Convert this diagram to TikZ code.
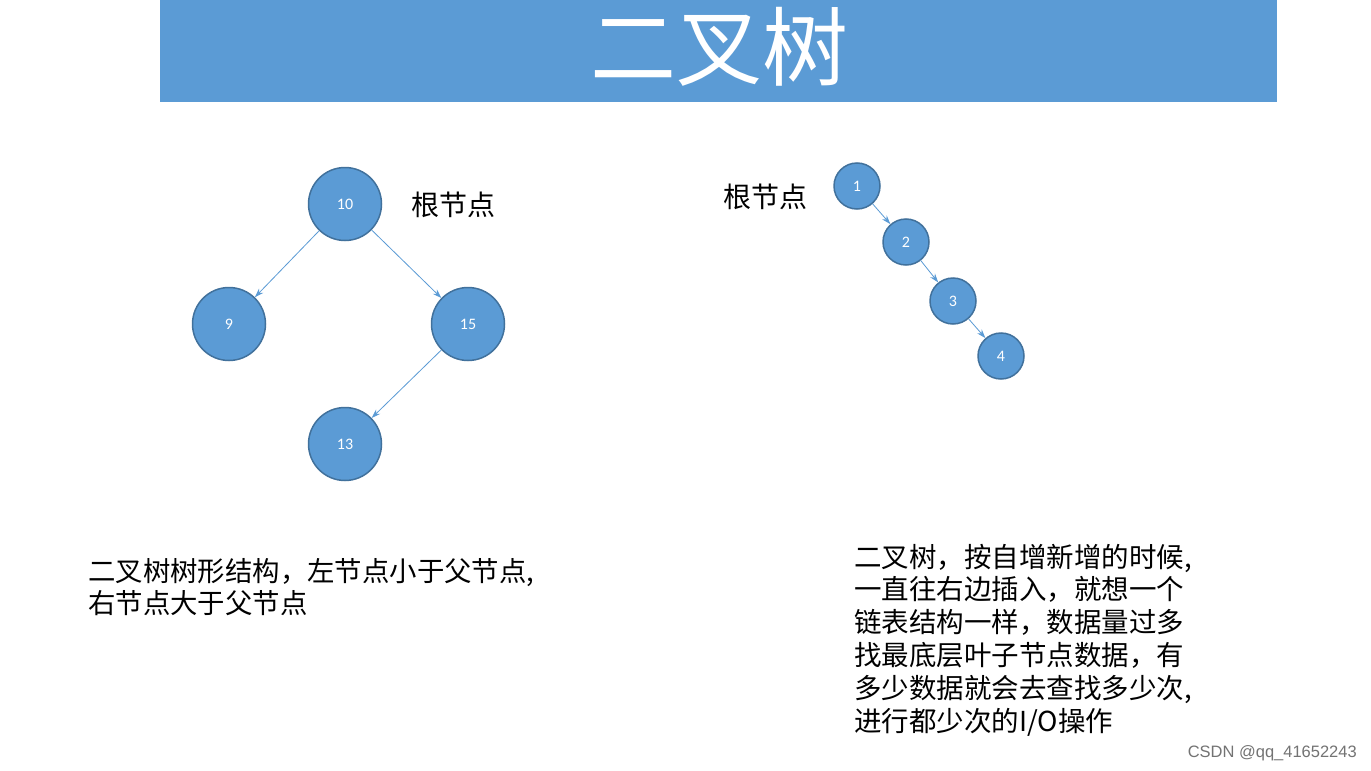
\documentclass[tikz,border=0pt]{standalone}
\usepackage{fontspec}
\setmainfont{Noto Sans CJK SC}
\newfontfamily\numfont{Carlito}
\newfontfamily\latinsans{Liberation Sans}
\usetikzlibrary{arrows.meta}
\definecolor{band}{HTML}{5B9BD5}
\definecolor{nodeedge}{HTML}{41719C}
\begin{document}
\begin{tikzpicture}[x=1pt,y=-1pt,
  treenode/.style={circle,fill=band,draw=nodeedge,line width=1.5pt,inner sep=0pt,text=white,font=\numfont\fontsize{16}{19}\selectfont},
  bignode/.style={treenode,minimum size=73pt},
  smallnode/.style={treenode,minimum size=46pt},
  link/.style={draw=band,line width=0.8pt,-{Stealth[length=9pt,width=6pt]}},
  label/.style={inner sep=0pt,font=\fontsize{28}{32}\selectfont},
  body/.style={inner sep=0pt,align=left,anchor=west}]
\useasboundingbox (0,0) rectangle (1371,771);
\fill[white] (0,0) rectangle (1371,771);
\fill[band] (160,0) rectangle (1277,102);
\node[inner sep=0pt,text=white,font=\fontsize{86}{90}\selectfont] (title) at (719,47) {二叉树};
% left tree
\node[bignode] (n10) at (345,204) {10};
\node[bignode] (n9) at (229,324) {9};
\node[bignode] (n15) at (468,324) {15};
\node[bignode] (n13) at (345,444) {13};
\draw[link] (n10) -- (n9);
\draw[link] (n10) -- (n15);
\draw[link] (n15) -- (n13);
\node[label] (rootL) at (453,205) {根节点};
% right chain
\node[smallnode] (c1) at (857,186) {1};
\node[smallnode] (c2) at (906,242) {2};
\node[smallnode] (c3) at (953,301) {3};
\node[smallnode] (c4) at (1001,356) {4};
\draw[link] (c1) -- (c2);
\draw[link] (c2) -- (c3);
\draw[link] (c3) -- (c4);
\node[label] (rootR) at (765,197) {根节点};
% texts
\node[body,font=\fontsize{27.4}{32}\selectfont] (descL) at (88,587) {二叉树树形结构，左节点小于父节点,\\右节点大于父节点};
\node[body,font=\fontsize{27.5}{32.8}\selectfont] (descR) at (854,640) {二叉树，按自增新增的时候,\\一直往右边插入，就想一个\\链表结构一样，数据量过多\\找最底层叶子节点数据，有\\多少数据就会去查找多少次,\\进行都少次的I/O操作};
\node[inner sep=0pt,anchor=east,text=black!55,font=\latinsans\fontsize{16.5}{19}\selectfont] (csdn) at (1357,753) {CSDN @qq\_41652243};
\end{tikzpicture}
\end{document}
